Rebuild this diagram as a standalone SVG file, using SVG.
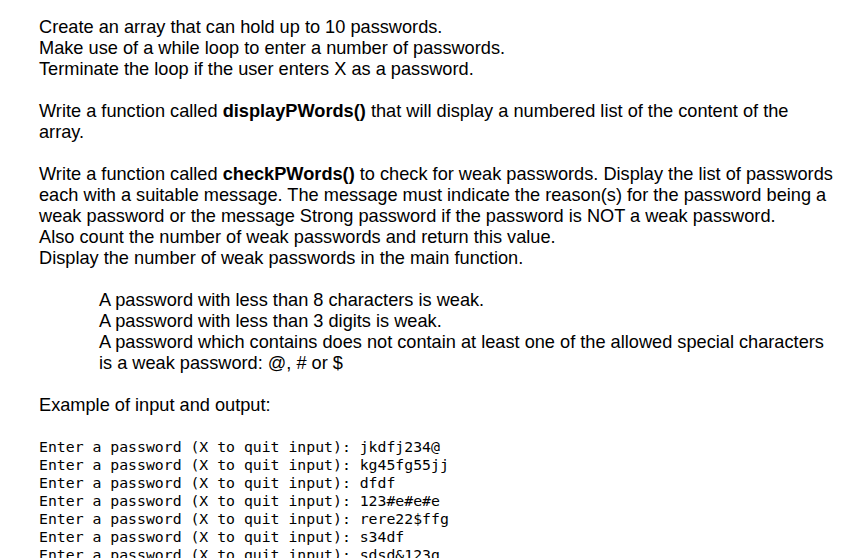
<svg xmlns="http://www.w3.org/2000/svg" width="853" height="558" viewBox="0 0 853 558">
<style>
.t{font-family:"Liberation Sans",Arial,sans-serif;font-size:18.2px;fill:#000}
.b{font-weight:bold}
.m{font-family:"DejaVu Sans Mono","Liberation Mono",monospace;font-size:14.8px;fill:#000}
</style>
<rect width="853" height="558" fill="#fff"/>
<g class="t">
<text x="39" y="33">Create an array that can hold up to 10 passwords.</text>
<text x="39" y="54">Make use of a while loop to enter a number of passwords.</text>
<text x="39" y="75">Terminate the loop if the user enters X as a password.</text>
<text x="39" y="117">Write a function called <tspan class="b">displayPWords()</tspan> that will display a numbered list of the content of the</text>
<text x="39" y="138">array.</text>
<text x="39" y="180">Write a function called <tspan class="b">checkPWords()</tspan> to check for weak passwords. Display the list of passwords</text>
<text x="39" y="201">each with a suitable message. The message must indicate the reason(s) for the password being a</text>
<text x="39" y="222">weak password or the message Strong password if the password is NOT a weak password.</text>
<text x="39" y="243">Also count the number of weak passwords and return this value.</text>
<text x="39" y="264">Display the number of weak passwords in the main function.</text>
<text x="99" y="306">A password with less than 8 characters is weak.</text>
<text x="99" y="327">A password with less than 3 digits is weak.</text>
<text x="99" y="348">A password which contains does not contain at least one of the allowed special characters</text>
<text x="99" y="369">is a weak password: @, # or $</text>
<text x="39" y="411">Example of input and output:</text>
</g>
<g class="m">
<text x="39" y="452">Enter a password (X to quit input): jkdfj234@</text>
<text x="39" y="470">Enter a password (X to quit input): kg45fg55jj</text>
<text x="39" y="488">Enter a password (X to quit input): dfdf</text>
<text x="39" y="506">Enter a password (X to quit input): 123#e#e#e</text>
<text x="39" y="524">Enter a password (X to quit input): rere22$ffg</text>
<text x="39" y="542">Enter a password (X to quit input): s34df</text>
<text x="39" y="560">Enter a password (X to quit input): sdsd&amp;123g</text>
</g>
</svg>
